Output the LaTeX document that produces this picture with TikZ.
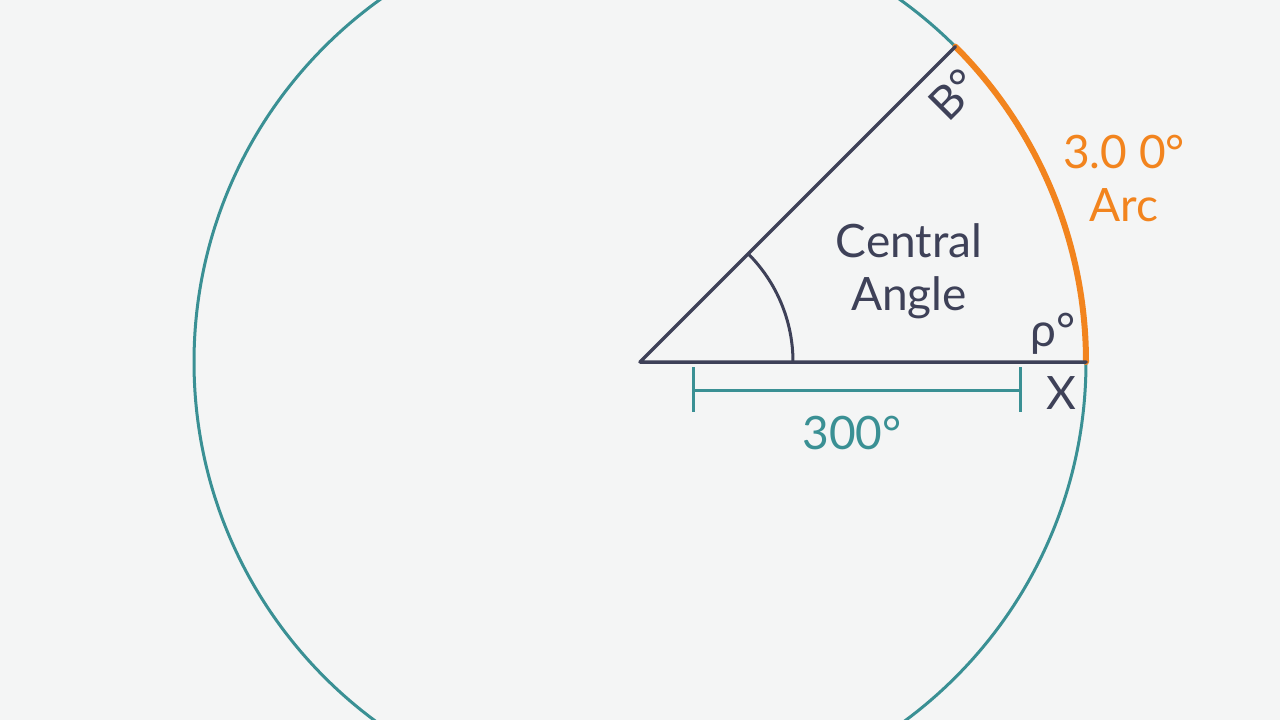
\documentclass[tikz,border=0pt]{standalone}
\usepackage{fontspec}
\usetikzlibrary{calc}
\setmainfont{Lato}
\definecolor{bg}{HTML}{F4F5F5}
\definecolor{teal}{HTML}{3A9094}
\definecolor{slate}{HTML}{3E4158}
\definecolor{orng}{HTML}{F2841E}
\tikzset{
  lbl/.style={font=\fontsize{46}{53}\selectfont, inner sep=0pt, align=center},
  ray/.style={draw=slate, line width=3.5pt, line cap=round, line join=round},
  rim/.style={draw=teal, line width=3pt},
}
\begin{document}
\begin{tikzpicture}[x=1pt,y=-1pt]
\fill[bg] (0,0) rectangle (1280,720);
\useasboundingbox (0,0) rectangle (1280,720);
\coordinate (O) at (640,362);
\coordinate (P) at ($(O)+(446,0)$);
\coordinate (Q) at ($(O)+(315.4,-315.4)$);
% circle
\draw[rim] (O) circle[radius=446pt];
% orange arc
\draw[draw=orng, line width=6pt, line cap=round] (P) arc[start angle=0, end angle=45, radius=446pt];
% radii
\draw[ray] (Q) -- (O) -- (P);
% angle arc
\draw[draw=slate, line width=3pt] ($(O)+(153,0)$) arc[start angle=0, end angle=45, radius=153pt];
% bracket
\coordinate (b1) at (693,390);
\coordinate (b2) at (1020,390);
\draw[draw=teal, line width=3pt] (b1) -- (b2);
\draw[draw=teal, line width=3pt] (693,367) -- (693,412);
\draw[draw=teal, line width=3pt] (1020,367) -- (1020,412);
% labels
\node[lbl, text=teal] (len) at (852,433) {300°};
\node[lbl, text=slate] (ca) at (909,271) {Central\\Angle};
\node[lbl, text=orng] (arc) at (1124,178) {3.0 0°\\Arc};
\node[lbl, text=slate, rotate=45] (B) at (954,94) {B°};
\node[lbl, text=slate] (rho) at (1053,334) {ρ°};
\node[lbl, text=slate] (X) at (1061,393) {X};
\end{tikzpicture}
\end{document}
